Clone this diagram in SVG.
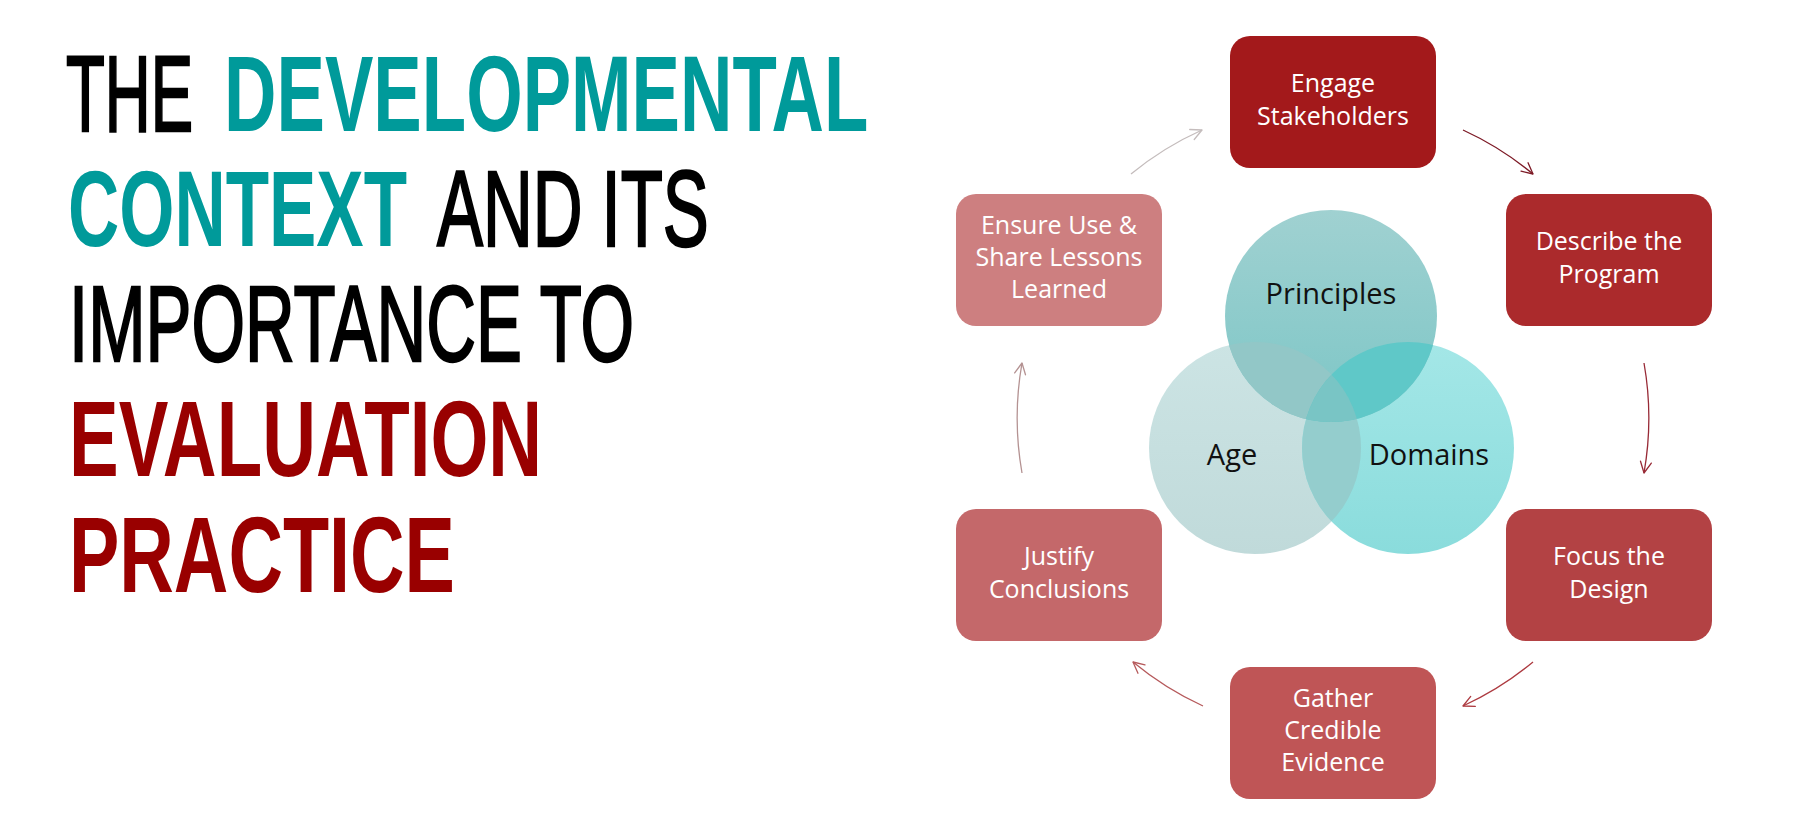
<svg xmlns="http://www.w3.org/2000/svg" width="1795" height="840" viewBox="0 0 1795 840">
<style>
.t{font-family:"Liberation Sans",Arial,sans-serif;font-size:108px}
.r{font-weight:400;fill:#000;stroke:#000;stroke-width:2.4}
.b{font-weight:700}
.teal{fill:#009a9a}
.red{fill:#990000}
.bx{font-family:"Open Sans","Noto Sans",sans-serif;font-size:25px;fill:#fff;text-anchor:middle}
.cl{font-family:"Open Sans","Noto Sans",sans-serif;font-size:29px;fill:#111;text-anchor:middle}
.arc{fill:none;stroke-width:1.3}
.mk{fill:none;stroke-width:1.3;stroke-linecap:round;stroke-linejoin:round}
</style>
<defs>
<linearGradient id="gAge" x1="0" y1="0" x2="0" y2="1"><stop offset="0" stop-color="#cce4e4"/><stop offset="1" stop-color="#c0dada"/></linearGradient>
<linearGradient id="gDom" x1="0" y1="0" x2="0" y2="1"><stop offset="0" stop-color="#a4e7e7"/><stop offset="1" stop-color="#8adcdc"/></linearGradient>
<linearGradient id="gPri" x1="0" y1="0" x2="0" y2="1"><stop offset="0" stop-color="#a0d1d1"/><stop offset="1" stop-color="#7cc6c6"/></linearGradient>
<clipPath id="cAge"><circle cx="1255" cy="448" r="106"/></clipPath>
<clipPath id="cDom"><circle cx="1408" cy="448" r="106"/></clipPath>
<marker id="m1" viewBox="-13 -8 15 16" refX="0" refY="0" markerWidth="15" markerHeight="16" markerUnits="userSpaceOnUse" orient="auto"><path class="mk" stroke="#c4bcbc" d="M-11,-5.5 L0,0 L-11,5.5"/></marker>
<marker id="m2" viewBox="-13 -8 15 16" refX="0" refY="0" markerWidth="15" markerHeight="16" markerUnits="userSpaceOnUse" orient="auto"><path class="mk" stroke="#7d1a26" d="M-11,-5.5 L0,0 L-11,5.5"/></marker>
<marker id="m3" viewBox="-13 -8 15 16" refX="0" refY="0" markerWidth="15" markerHeight="16" markerUnits="userSpaceOnUse" orient="auto"><path class="mk" stroke="#982a36" d="M-11,-5.5 L0,0 L-11,5.5"/></marker>
<marker id="m4" viewBox="-13 -8 15 16" refX="0" refY="0" markerWidth="15" markerHeight="16" markerUnits="userSpaceOnUse" orient="auto"><path class="mk" stroke="#ad3a40" d="M-11,-5.5 L0,0 L-11,5.5"/></marker>
<marker id="m5" viewBox="-13 -8 15 16" refX="0" refY="0" markerWidth="15" markerHeight="16" markerUnits="userSpaceOnUse" orient="auto"><path class="mk" stroke="#b65a5c" d="M-11,-5.5 L0,0 L-11,5.5"/></marker>
<marker id="m6" viewBox="-13 -8 15 16" refX="0" refY="0" markerWidth="15" markerHeight="16" markerUnits="userSpaceOnUse" orient="auto"><path class="mk" stroke="#b49292" d="M-11,-5.5 L0,0 L-11,5.5"/></marker>
</defs>
<rect width="1795" height="840" fill="#fff"/>

<g id="title">
<text class="t r" transform="translate(66,131) scale(0.588,1)" x="0" y="0" textLength="216" lengthAdjust="spacingAndGlyphs">THE</text>
<text class="t b teal" transform="translate(224,131) scale(0.667,1)" x="0" y="0" textLength="966" lengthAdjust="spacingAndGlyphs">DEVELOPMENTAL</text>
<text class="t b teal" transform="translate(68,246) scale(0.657,1)" x="0" y="0" textLength="516" lengthAdjust="spacingAndGlyphs">CONTEXT</text>
<text class="t r" transform="translate(437,246) scale(0.638,1)" x="0" y="0" textLength="426" lengthAdjust="spacingAndGlyphs">AND ITS</text>
<text class="t r" transform="translate(69,361) scale(0.628,1)" x="0" y="0" textLength="900" lengthAdjust="spacingAndGlyphs">IMPORTANCE TO</text>
<text class="t b red" transform="translate(69,476) scale(0.674,1)" x="0" y="0" textLength="702" lengthAdjust="spacingAndGlyphs">EVALUATION</text>
<text class="t b red" transform="translate(69,592) scale(0.699,1)" x="0" y="0" textLength="552" lengthAdjust="spacingAndGlyphs">PRACTICE</text>
</g>

<g id="venn">
<g id="age"><circle cx="1255" cy="448" r="106" fill="url(#gAge)"/></g>
<g id="domains"><circle cx="1408" cy="448" r="106" fill="url(#gDom)"/></g>
<g id="principles"><circle cx="1331" cy="316" r="106" fill="url(#gPri)"/></g>
<circle cx="1408" cy="448" r="106" fill="#94cdcd" clip-path="url(#cAge)"/>
<circle cx="1331" cy="316" r="106" fill="#92c7c7" clip-path="url(#cAge)"/>
<circle cx="1331" cy="316" r="106" fill="#5fc8c8" clip-path="url(#cDom)"/>
<g clip-path="url(#cAge)"><circle cx="1331" cy="316" r="106" fill="#79c5c5" clip-path="url(#cDom)"/></g>
<text class="cl" x="1331" y="304">Principles</text>
<text class="cl" x="1232" y="465">Age</text>
<text class="cl" x="1429" y="465">Domains</text>
</g>

<g id="connectors">
<path class="arc" stroke="#c4bcbc" d="M1131,174 A316,316 0 0 1 1202,130" marker-end="url(#m1)"/>
<path class="arc" stroke="#7d1a26" d="M1463,130 A316,316 0 0 1 1533,174" marker-end="url(#m2)"/>
<path class="arc" stroke="#982a36" d="M1644,363 A316,316 0 0 1 1644,473" marker-end="url(#m3)"/>
<path class="arc" stroke="#ad3a40" d="M1533,662 A316,316 0 0 1 1463,706" marker-end="url(#m4)"/>
<path class="arc" stroke="#b65a5c" d="M1203,706 A316,316 0 0 1 1133,662" marker-end="url(#m5)"/>
<path class="arc" stroke="#b49292" d="M1022,473 A316,316 0 0 1 1022,363" marker-end="url(#m6)"/>
</g>

<g id="engage">
<rect x="1230" y="36" width="206" height="132" rx="20" fill="#a3191b"/>
<text class="bx" x="1333" y="92">Engage</text>
<text class="bx" x="1333" y="125">Stakeholders</text>
</g>
<g id="describe">
<rect x="1506" y="194" width="206" height="132" rx="20" fill="#ab2a2c"/>
<text class="bx" x="1609" y="250">Describe the</text>
<text class="bx" x="1609" y="283">Program</text>
</g>
<g id="focus">
<rect x="1506" y="509" width="206" height="132" rx="20" fill="#b34244"/>
<text class="bx" x="1609" y="565">Focus the</text>
<text class="bx" x="1609" y="598">Design</text>
</g>
<g id="gather">
<rect x="1230" y="667" width="206" height="132" rx="20" fill="#bf5556"/>
<text class="bx" x="1333" y="707">Gather</text>
<text class="bx" x="1333" y="739">Credible</text>
<text class="bx" x="1333" y="771">Evidence</text>
</g>
<g id="justify">
<rect x="956" y="509" width="206" height="132" rx="20" fill="#c4686a"/>
<text class="bx" x="1059" y="565">Justify</text>
<text class="bx" x="1059" y="598">Conclusions</text>
</g>
<g id="ensure">
<rect x="956" y="194" width="206" height="132" rx="20" fill="#cd7f80"/>
<text class="bx" x="1059" y="234">Ensure Use &amp;</text>
<text class="bx" x="1059" y="266">Share Lessons</text>
<text class="bx" x="1059" y="298">Learned</text>
</g>
</svg>
